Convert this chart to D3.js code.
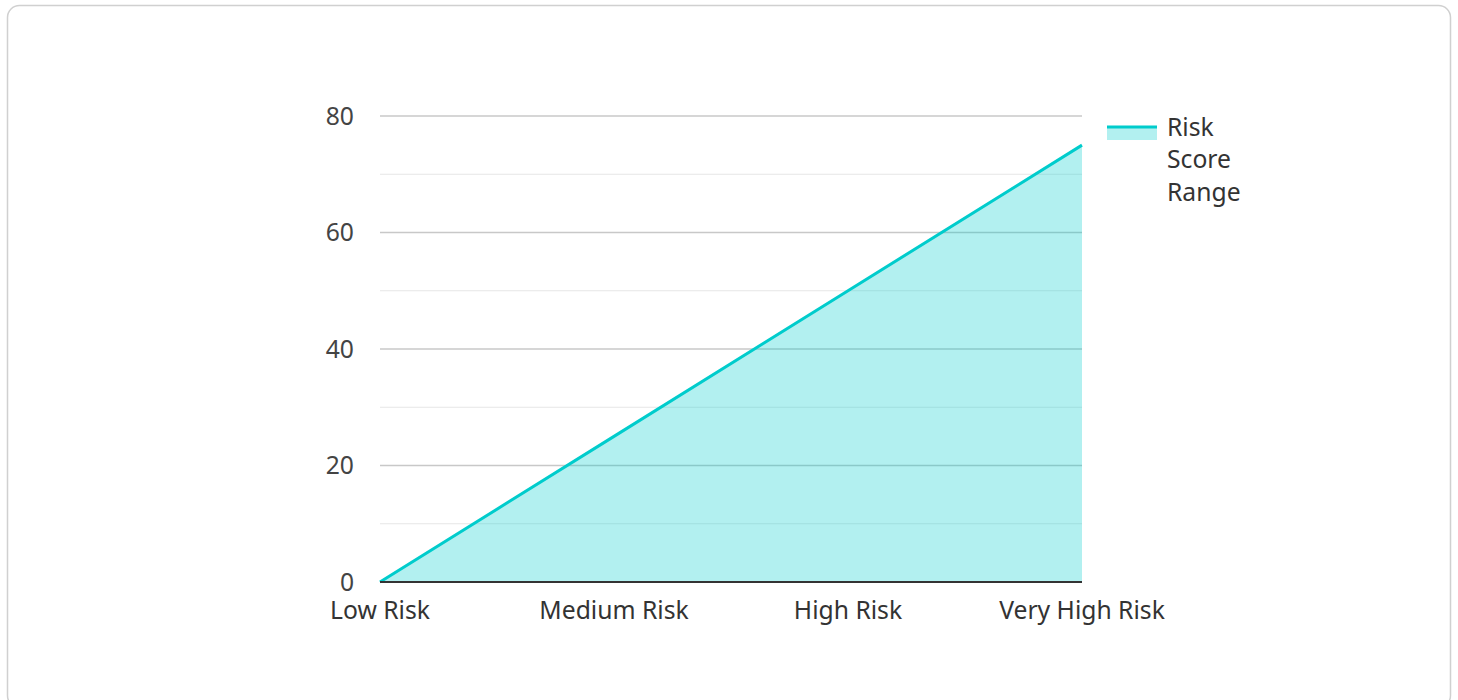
<!DOCTYPE html>
<html><head><meta charset="utf-8">
<script src="https://cdn.jsdelivr.net/npm/d3@7"></script>
<style>
html,body{margin:0;padding:0;background:#fff;}
svg{display:block;font-family:"Noto Sans","Open Sans",sans-serif;}
</style></head>
<body><svg id="c" width="1458" height="700"></svg>
<script>
const categories = ["Low Risk","Medium Risk","High Risk","Very High Risk"];
const values = [0,25,50,75];
const yTicks = [0,20,40,60,80];
const yMinor = [10,30,50,70];
const seriesName = ["Risk","Score","Range"];

const svg = d3.select("#c");
svg.append("rect").attr("x",7.5).attr("y",5.5).attr("width",1443).attr("height",702)
  .attr("rx",12).attr("fill","#fff").attr("stroke","#d0d0d0").attr("stroke-width",1.5);

const x = d3.scalePoint().domain(categories).range([380,1082]);
const y = d3.scaleLinear().domain([0,80]).range([582,116]);

const g = svg.append("g");
g.selectAll(".minor").data(yMinor).join("line")
  .attr("x1",380).attr("x2",1082).attr("y1",d=>y(d)).attr("y2",d=>y(d))
  .attr("stroke","#e6e6e6").attr("stroke-width",1);
g.selectAll(".major").data(yTicks.filter(d=>d>0)).join("line")
  .attr("x1",380).attr("x2",1082).attr("y1",d=>y(d)).attr("y2",d=>y(d))
  .attr("stroke","#c8c8c8").attr("stroke-width",1.5);

const data = categories.map((c,i)=>({c,v:values[i]}));
g.append("path").datum(data)
  .attr("d",d3.area().x(d=>x(d.c)).y0(y(0)).y1(d=>y(d.v)))
  .attr("fill","#00cccc").attr("fill-opacity",0.3);
g.append("path").datum(data)
  .attr("d",d3.line().x(d=>x(d.c)).y(d=>y(d.v)))
  .attr("fill","none").attr("stroke","#00cccc").attr("stroke-width",3);

g.append("line").attr("x1",380).attr("x2",1082).attr("y1",y(0)).attr("y2",y(0))
  .attr("stroke","#333").attr("stroke-width",2);

g.selectAll(".yl").data(yTicks).join("text")
  .attr("x",354).attr("y",d=>y(d)).attr("dy","0.35em").attr("text-anchor","end")
  .attr("font-size",24.7).attr("fill","#444").text(d=>d);
g.selectAll(".xl").data(categories).join("text")
  .attr("x",d=>x(d)).attr("y",610).attr("dy","0.35em").attr("text-anchor","middle")
  .attr("font-size",24.7).attr("fill","#333").text(d=>d);

const lg = svg.append("g");
lg.append("rect").attr("x",1107).attr("y",126).attr("width",50).attr("height",14)
  .attr("fill","#00cccc").attr("fill-opacity",0.3);
lg.append("line").attr("x1",1107).attr("x2",1157).attr("y1",127).attr("y2",127)
  .attr("stroke","#00cccc").attr("stroke-width",3);
lg.selectAll("text").data(seriesName).join("text")
  .attr("x",1167).attr("y",(d,i)=>127+i*32.5).attr("dy","0.35em")
  .attr("font-size",24.7).attr("fill","#333").text(d=>d);
</script></body></html>
